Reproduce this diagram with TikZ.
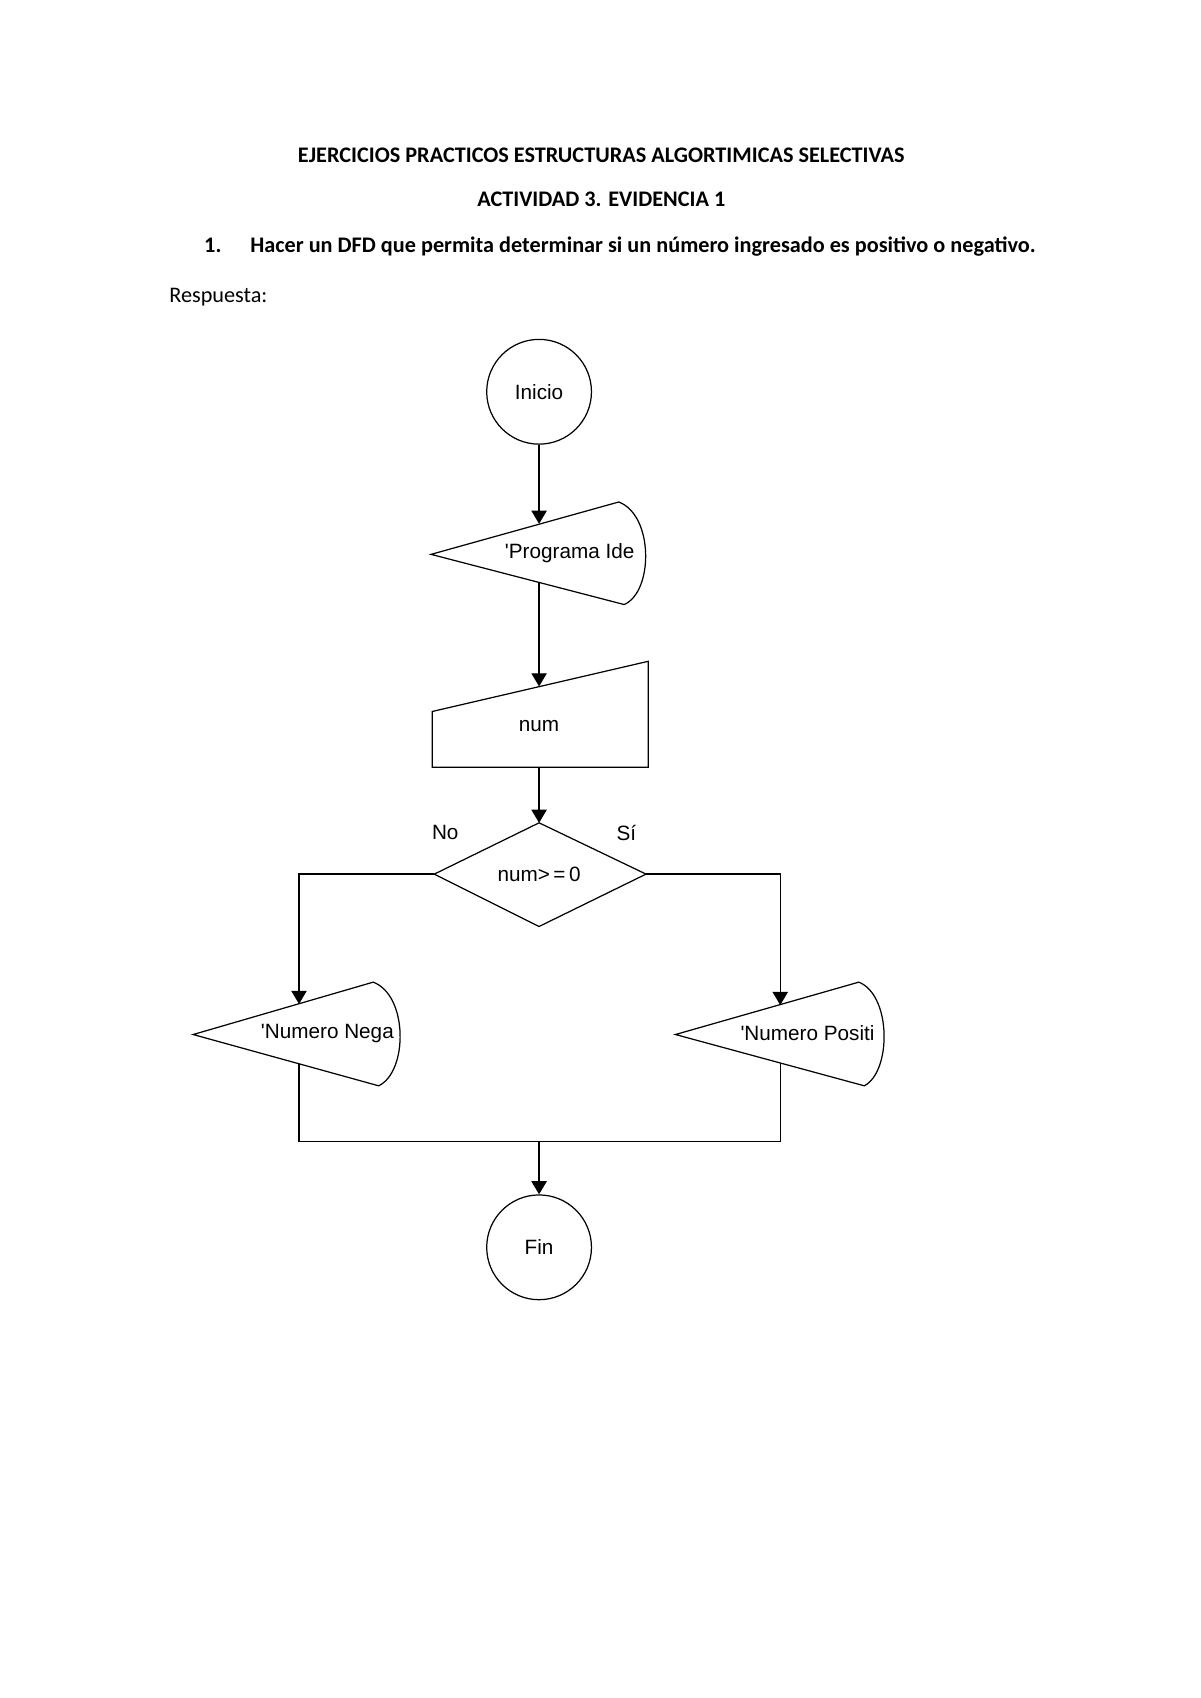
\documentclass[tikz,border=0pt]{standalone}
\usepackage{fontspec}
\setmainfont{Carlito}
\newfontfamily\arialf{Liberation Sans}
\usetikzlibrary{arrows.meta}
\begin{document}
\begin{tikzpicture}[x=0.05cm,y=-0.05cm,
  shp/.style={draw,line width=1.6pt,line join=miter},
  conn/.style={line width=1.6pt,-{Triangle[width=0.7cm,length=0.6cm]}},
  ln/.style={line width=1.6pt},
  lbl/.style={font=\arialf\fontsize{27}{31}\selectfont,inner sep=0pt},
  ttl/.style={font=\fontsize{29}{34}\selectfont,inner sep=0pt}]
\useasboundingbox (3,3) rectangle (1103,1559);
\node[ttl,font=\bfseries\fontsize{29}{34}\selectfont] (t1) at (554,145) {EJERCICIOS PRACTICOS ESTRUCTURAS ALGORTIMICAS SELECTIVAS};
\node[ttl,font=\bfseries\fontsize{29}{34}\selectfont] (t2) at (554,186) {ACTIVIDAD 3. EVIDENCIA 1};
\node[ttl,font=\bfseries\fontsize{29}{34}\selectfont,anchor=west] (t3) at (190,229) {1.\hspace{1.3em}Hacer un DFD que permita determinar si un número ingresado es positivo o negativo.};
\node[ttl,anchor=west] (t4) at (158,275) {Respuesta:};
% Inicio
\node[shp,circle,minimum size=4.8cm,lbl] (ini) at (497,362) {Inicio};
% display 1
\draw[shp] (398,511) -- (570,463) .. controls (602,475) and (602,545) .. (575,557) -- cycle;
\node[lbl] (d1) at (525,510) {'Programa Ide};
\coordinate (d1t) at (497,483);
\coordinate (d1b) at (497,537);
% manual input
\draw[shp] (399,655) -- (597,609) -- (597,706) -- (399,706) -- cycle;
\node[lbl] (mi) at (497,668) {num};
\coordinate (mit) at (497,632);
\coordinate (mib) at (497,706);
% decision
\draw[shp] (497,757) -- (595,804) -- (497,852) -- (401,804) -- cycle;
\node[lbl] (dec) at (497,804) {num>\,=\,0};
\coordinate (dt) at (497,757);
\coordinate (dl) at (401,804);
\coordinate (dr) at (595,804);
\node[lbl] (no) at (411,766) {No};
\node[lbl] (si) at (577,766) {Sí};
% left display
\draw[shp] (180,951) -- (345,903) .. controls (377,915) and (377,985) .. (350,998) -- cycle;
\node[lbl] (dn) at (303,950) {'Numero Nega};
\coordinate (dnt) at (277,923);
\coordinate (dnb) at (277,978);
% right display
\draw[shp] (622,951) -- (790,903) .. controls (820,915) and (820,985) .. (795,998) -- cycle;
\node[lbl] (dp) at (743,950) {'Numero Positi};
\coordinate (dpt) at (718,924);
\coordinate (dpb) at (718,977);
% Fin
\node[shp,circle,minimum size=4.8cm,lbl] (fin) at (497,1146) {Fin};
\coordinate (j) at (497,1049);
% connectors
\draw[conn] (ini) -- (d1t);
\draw[conn] (d1b) -- (mit);
\draw[conn] (mib) -- (dt);
\draw[conn] (dl) -| (dnt);
\draw[conn] (dr) -| (dpt);
\draw[ln] (dnb) |- (j) -| (dpb);
\draw[conn] (j) -- (fin);
\end{tikzpicture}
\end{document}
